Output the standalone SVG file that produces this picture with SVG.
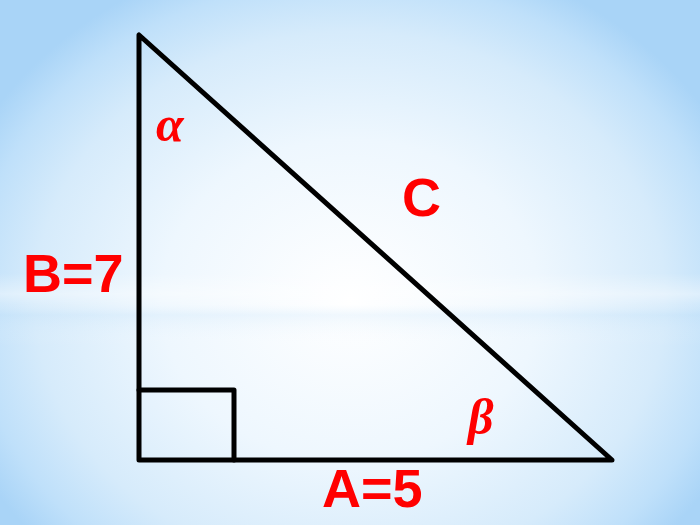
<svg xmlns="http://www.w3.org/2000/svg" width="700" height="525" viewBox="0 0 700 525">
<defs>
<radialGradient id="bg" cx="350" cy="300" r="420" gradientUnits="userSpaceOnUse" gradientTransform="translate(350 300) scale(1 0.85) translate(-350 -300)">
<stop offset="0" stop-color="#ffffff"/>
<stop offset="0.45" stop-color="#eef7fe"/>
<stop offset="0.75" stop-color="#d6ebfb"/>
<stop offset="0.9" stop-color="#bfe0fa"/>
<stop offset="1" stop-color="#a9d4f7"/>
</radialGradient>
<linearGradient id="band" x1="0" y1="0" x2="0" y2="525" gradientUnits="userSpaceOnUse">
<stop offset="0" stop-color="#ffffff" stop-opacity="0"/>
<stop offset="0.52" stop-color="#ffffff" stop-opacity="0"/>
<stop offset="0.56" stop-color="#ffffff" stop-opacity="0.4"/>
<stop offset="0.58" stop-color="#ffffff" stop-opacity="0.15"/>
<stop offset="0.6" stop-color="#b8dcf8" stop-opacity="0.2"/>
<stop offset="0.66" stop-color="#ffffff" stop-opacity="0"/>
<stop offset="1" stop-color="#ffffff" stop-opacity="0"/>
</linearGradient>
</defs>
<style>
.edge{fill:none;stroke:#000;stroke-width:5;stroke-linejoin:round;stroke-linecap:round}
.lbl{font-family:"Liberation Sans",Arial,sans-serif;font-weight:bold;font-size:54px;fill:#ff0000}
.greek{font-family:"Liberation Serif","DejaVu Serif",serif;font-style:italic;font-weight:bold;font-size:50px;fill:#ff0000}
</style>
<rect x="0" y="0" width="700" height="525" fill="url(#bg)"/>
<rect x="0" y="0" width="700" height="525" fill="url(#band)"/>
<g id="connectors">
<polygon class="edge" points="139,35 139,460 612,460"/>
<polyline class="edge" points="139,390 234,390 234,460"/>
</g>
<g id="label-alpha"><text class="greek" x="156" y="141">α</text></g>
<g id="label-beta"><text class="greek" x="468" y="434">β</text></g>
<g id="label-C"><text class="lbl" x="402" y="216">C</text></g>
<g id="label-B"><text class="lbl" x="23" y="292">B=7</text></g>
<g id="label-A"><text class="lbl" x="322" y="507">A=5</text></g>
</svg>
